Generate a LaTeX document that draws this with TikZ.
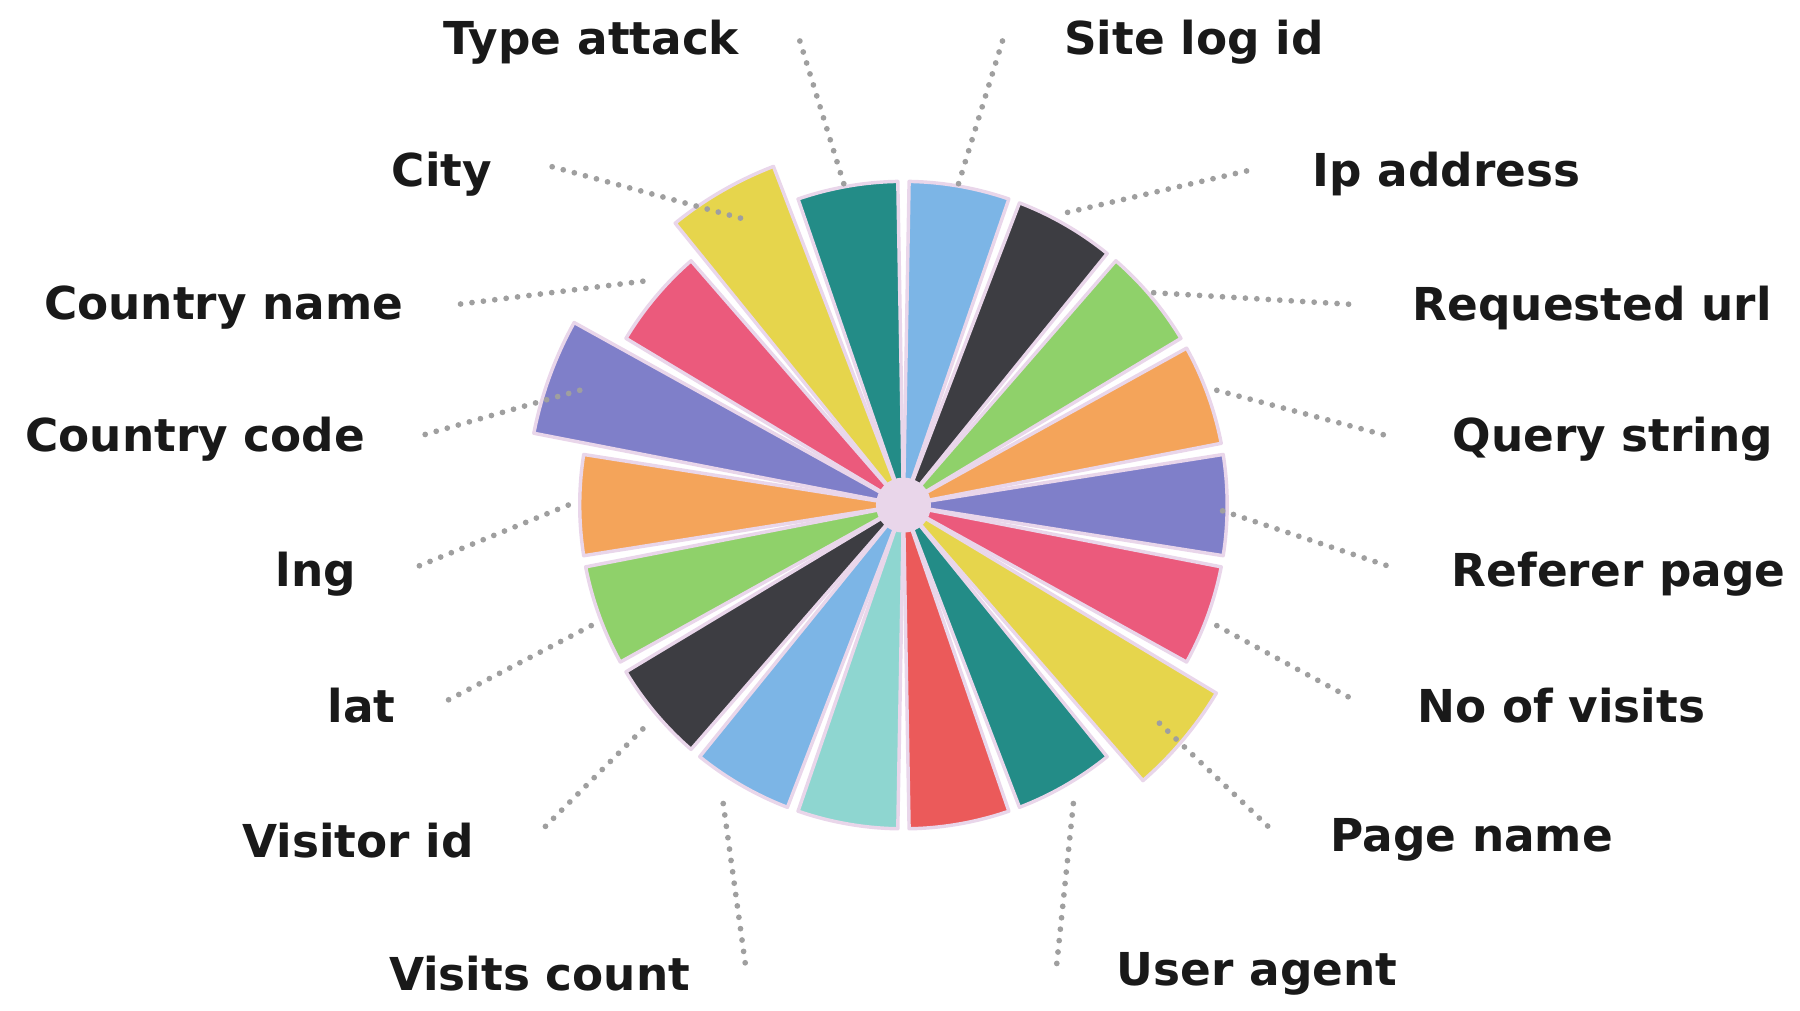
\documentclass[tikz,border=0pt]{standalone}
\usepackage{fontspec}
\setmainfont{DejaVu Sans}
\begin{document}
\begin{tikzpicture}[x=1pt,y=1pt,
  wedge/.style={draw=lav,line width=3pt,line join=round},
  lbl/.style={font=\fontsize{39.5}{42}\selectfont\bfseries,text=black!90},
  lead/.style={draw=gray!75,line width=5pt,line cap=round,dash pattern=on 0pt off 10pt}]
\definecolor{lav}{HTML}{E9D6EA}
\definecolor{cLB}{HTML}{7CB5E6}\definecolor{cDK}{HTML}{3D3D42}
\definecolor{cGR}{HTML}{8FD16A}\definecolor{cOR}{HTML}{F4A45A}
\definecolor{cPU}{HTML}{7F7FC9}\definecolor{cPK}{HTML}{EB5A7C}
\definecolor{cYE}{HTML}{E6D54C}\definecolor{cTE}{HTML}{238C87}
\definecolor{cRE}{HTML}{EB5A5A}\definecolor{cLT}{HTML}{8ED6D0}
\useasboundingbox (0,0) rectangle (1568,880);
\coordinate (C) at (787,440);
\begin{scope}[shift={(C)}]
\foreach \m/\c/\r in {80/cLB/282,60/cDK/282,40/cGR/282,20/cOR/282,0/cPU/282,-20/cPK/282,-40/cYE/318,-60/cTE/282,-80/cRE/282,-100/cLT/282,-120/cLB/282,-140/cDK/282,-160/cGR/282,180/cOR/282,160/cPU/328,140/cPK/282,120/cYE/316,100/cTE/282}{
  \draw[wedge,fill=\c] (\m-9:18pt) -- (\m-9:\r pt) arc[start angle=\m-9,end angle=\m+9,radius=\r pt] -- (\m+9:18pt) -- cycle;
}
\fill[lav] (0,0) circle (24pt);
\end{scope}
% labels
\node[lbl] (ta) at (515,843) {Type attack};
\node[lbl] (sl) at (1040,843) {Site log id};
\node[lbl] (ip) at (1260,728) {Ip address};
\node[lbl] (ru) at (1387,612) {Requested url};
\node[lbl] (qs) at (1405,497) {Query string};
\node[lbl] (rp) at (1410,380) {Referer page};
\node[lbl] (nv) at (1360,265) {No of visits};
\node[lbl] (pn) at (1282,148) {Page name};
\node[lbl] (ua) at (1095,32) {User agent};
\node[lbl] (vc) at (470,32) {Visits count};
\node[lbl] (vi) at (312,148) {Visitor id};
\node[lbl] (la) at (315,265) {lat};
\node[lbl] (ln) at (275,380) {lng};
\node[lbl] (cc) at (170,497) {Country code};
\node[lbl] (cn) at (195,612) {Country name};
\node[lbl] (ci) at (385,728) {City};
% leader starts
\foreach \n/\x/\y in {pta/735/720,psl/835/720,pip/930/695,pru/1005/625,pqs/1060/540,prp/1065/435,pnv/1060/335,ppn/1010/250,pua/935/180,pvc/630/180,pvi/560/245,pla/515/335,pln/495/440,pcc/505/540,pcn/560/635,pci/645/690}{\coordinate (\n) at (\x,\y);}
\foreach \n/\x/\y in {eta/695/850,esl/875/850,eip/1090/732,eru/1175/615,eqs/1210/500,erp/1215/385,env/1180/270,epn/1110/155,eua/920/35,evc/650/35,evi/470/155,ela/390/270,eln/360/385,ecc/365/500,ecn/400/615,eci/480/735}{\coordinate (\n) at (\x,\y);}
\foreach \n in {ta,sl,ip,ru,qs,rp,nv,pn,ua,vc,vi,la,ln,cc,cn,ci}{\draw[lead] (p\n) -- (e\n);}
\end{tikzpicture}
\end{document}
